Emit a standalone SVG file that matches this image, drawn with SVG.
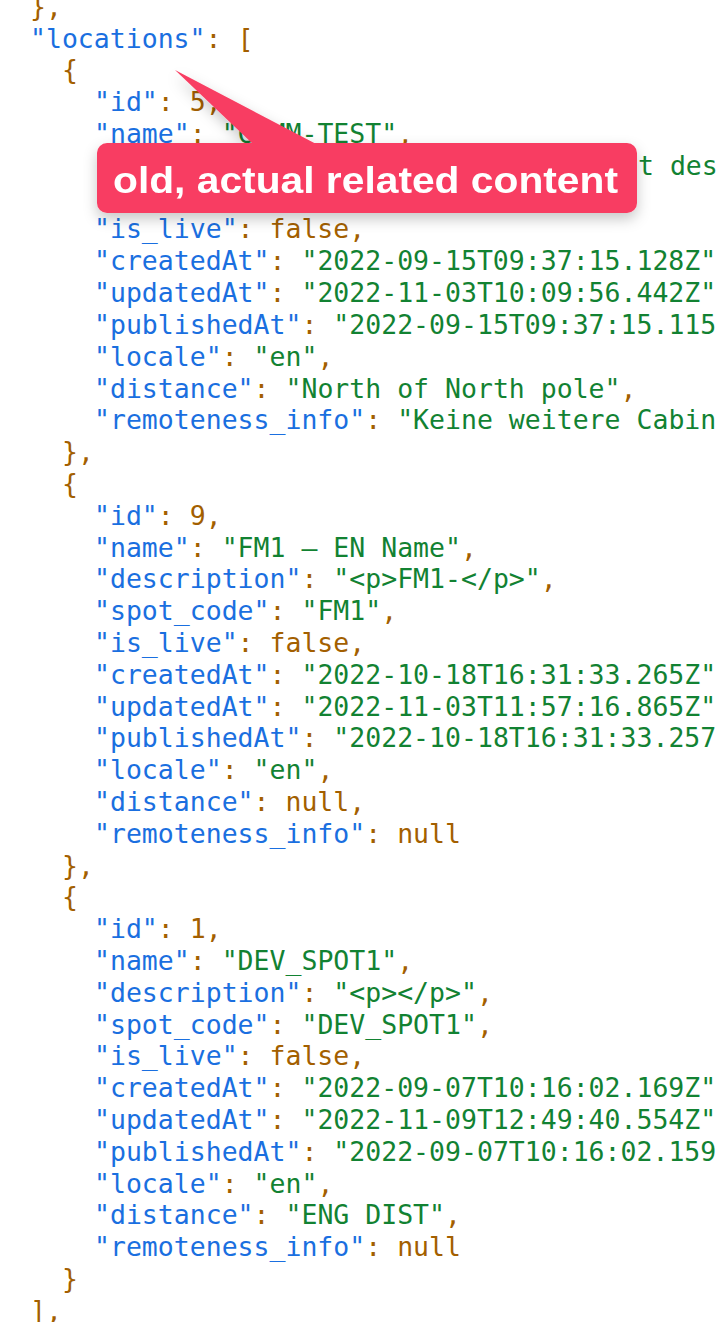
<svg xmlns="http://www.w3.org/2000/svg" width="720" height="1322" viewBox="0 0 720 1322">
<style>
text{font-family:"DejaVu Sans Mono",monospace;font-size:26.5px;white-space:pre}
.k{fill:#1a6fe0}.s{fill:#128232}.p{fill:#a35f00}
.lbl{font-family:"Liberation Sans",Arial,sans-serif;font-weight:bold;font-size:36px;fill:#fff}
</style>
<defs><filter id="sh" x="-10%" y="-30%" width="120%" height="170%"><feDropShadow dx="0" dy="6" stdDeviation="7" flood-color="#000" flood-opacity="0.22"/></filter></defs>
<rect width="720" height="1322" fill="#fff"/>
<g id="code" transform="translate(0,2)">
<text x="30" y="14" class="p">},</text>
<text x="30" y="46"><tspan class="k">"locations"</tspan><tspan class="p">: [</tspan></text>
<text x="62" y="77" class="p">{</text>
<text x="94" y="109"><tspan class="k">"id"</tspan><tspan class="p">: 5,</tspan></text>
<text x="94" y="141"><tspan class="k">"name"</tspan><tspan class="p">: </tspan><tspan class="s">"COMM-TEST"</tspan><tspan class="p">,</tspan></text>
<text x="638" y="173" class="s">t des</text>
<text x="94" y="236"><tspan class="k">"is_live"</tspan><tspan class="p">: false,</tspan></text>
<text x="94" y="268"><tspan class="k">"createdAt"</tspan><tspan class="p">: </tspan><tspan class="s">"2022-09-15T09:37:15.128Z"</tspan></text>
<text x="94" y="300"><tspan class="k">"updatedAt"</tspan><tspan class="p">: </tspan><tspan class="s">"2022-11-03T10:09:56.442Z"</tspan></text>
<text x="94" y="332"><tspan class="k">"publishedAt"</tspan><tspan class="p">: </tspan><tspan class="s">"2022-09-15T09:37:15.115</tspan></text>
<text x="94" y="364"><tspan class="k">"locale"</tspan><tspan class="p">: </tspan><tspan class="s">"en"</tspan><tspan class="p">,</tspan></text>
<text x="94" y="396"><tspan class="k">"distance"</tspan><tspan class="p">: </tspan><tspan class="s">"North of North pole"</tspan><tspan class="p">,</tspan></text>
<text x="94" y="427"><tspan class="k">"remoteness_info"</tspan><tspan class="p">: </tspan><tspan class="s">"Keine weitere Cabin</tspan></text>
<text x="62" y="459" class="p">},</text>
<text x="62" y="491" class="p">{</text>
<text x="94" y="523"><tspan class="k">"id"</tspan><tspan class="p">: 9,</tspan></text>
<text x="94" y="555"><tspan class="k">"name"</tspan><tspan class="p">: </tspan><tspan class="s">"FM1 – EN Name"</tspan><tspan class="p">,</tspan></text>
<text x="94" y="586"><tspan class="k">"description"</tspan><tspan class="p">: </tspan><tspan class="s">"&lt;p&gt;FM1-&lt;/p&gt;"</tspan><tspan class="p">,</tspan></text>
<text x="94" y="618"><tspan class="k">"spot_code"</tspan><tspan class="p">: </tspan><tspan class="s">"FM1"</tspan><tspan class="p">,</tspan></text>
<text x="94" y="650"><tspan class="k">"is_live"</tspan><tspan class="p">: false,</tspan></text>
<text x="94" y="682"><tspan class="k">"createdAt"</tspan><tspan class="p">: </tspan><tspan class="s">"2022-10-18T16:31:33.265Z"</tspan></text>
<text x="94" y="714"><tspan class="k">"updatedAt"</tspan><tspan class="p">: </tspan><tspan class="s">"2022-11-03T11:57:16.865Z"</tspan></text>
<text x="94" y="745"><tspan class="k">"publishedAt"</tspan><tspan class="p">: </tspan><tspan class="s">"2022-10-18T16:31:33.257</tspan></text>
<text x="94" y="777"><tspan class="k">"locale"</tspan><tspan class="p">: </tspan><tspan class="s">"en"</tspan><tspan class="p">,</tspan></text>
<text x="94" y="809"><tspan class="k">"distance"</tspan><tspan class="p">: null,</tspan></text>
<text x="94" y="841"><tspan class="k">"remoteness_info"</tspan><tspan class="p">: null</tspan></text>
<text x="62" y="873" class="p">},</text>
<text x="62" y="904" class="p">{</text>
<text x="94" y="936"><tspan class="k">"id"</tspan><tspan class="p">: 1,</tspan></text>
<text x="94" y="968"><tspan class="k">"name"</tspan><tspan class="p">: </tspan><tspan class="s">"DEV_SPOT1"</tspan><tspan class="p">,</tspan></text>
<text x="94" y="1000"><tspan class="k">"description"</tspan><tspan class="p">: </tspan><tspan class="s">"&lt;p&gt;&lt;/p&gt;"</tspan><tspan class="p">,</tspan></text>
<text x="94" y="1032"><tspan class="k">"spot_code"</tspan><tspan class="p">: </tspan><tspan class="s">"DEV_SPOT1"</tspan><tspan class="p">,</tspan></text>
<text x="94" y="1063"><tspan class="k">"is_live"</tspan><tspan class="p">: false,</tspan></text>
<text x="94" y="1095"><tspan class="k">"createdAt"</tspan><tspan class="p">: </tspan><tspan class="s">"2022-09-07T10:16:02.169Z"</tspan></text>
<text x="94" y="1127"><tspan class="k">"updatedAt"</tspan><tspan class="p">: </tspan><tspan class="s">"2022-11-09T12:49:40.554Z"</tspan></text>
<text x="94" y="1159"><tspan class="k">"publishedAt"</tspan><tspan class="p">: </tspan><tspan class="s">"2022-09-07T10:16:02.159</tspan></text>
<text x="94" y="1191"><tspan class="k">"locale"</tspan><tspan class="p">: </tspan><tspan class="s">"en"</tspan><tspan class="p">,</tspan></text>
<text x="94" y="1222"><tspan class="k">"distance"</tspan><tspan class="p">: </tspan><tspan class="s">"ENG DIST"</tspan><tspan class="p">,</tspan></text>
<text x="94" y="1254"><tspan class="k">"remoteness_info"</tspan><tspan class="p">: null</tspan></text>
<text x="62" y="1286" class="p">}</text>
<text x="30" y="1318" class="p">],</text>
</g>
<g id="callout" filter="url(#sh)">
<path d="M175,70 L255,146 L320,146 Z" fill="#f83e62"/>
<rect x="97" y="143" width="540" height="70" rx="10" fill="#f83e62"/>
<text class="lbl" x="113" y="193" textLength="505" lengthAdjust="spacingAndGlyphs">old, actual related content</text>
</g>
</svg>
